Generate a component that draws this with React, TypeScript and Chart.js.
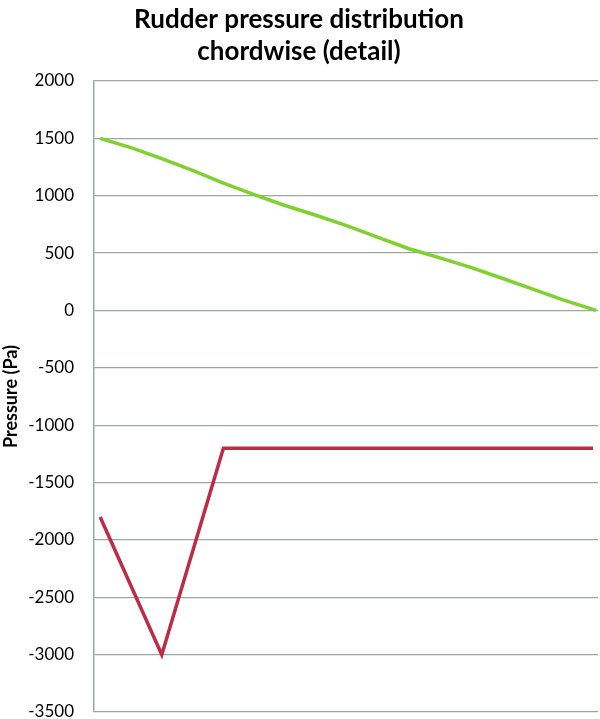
import React, { useEffect, useRef } from "react";
import { Chart, registerables } from "chart.js";

Chart.register(...registerables);

const titleLines = ["Rudder pressure distribution", "chordwise (detail)"];
const yAxisTitle = "Pressure (Pa)";
const yTicks = [2000, 1500, 1000, 500, 0, -500, -1000, -1500, -2000, -2500, -3000, -3500];

const greenX = [0, 0.5, 1, 1.5, 2, 2.5, 3, 3.5, 4, 4.5, 5, 5.5, 6, 6.5, 7, 7.5, 8.05];
const greenY = [1500, 1420, 1324, 1220, 1110, 1010, 915, 830, 740, 640, 540, 460, 377, 285, 190, 95, 0];

const redX = [0, 1, 2, 8];
const redY = [-1800, -3000, -1200, -1200];

export default function App() {
  const ref = useRef<HTMLCanvasElement | null>(null);
  useEffect(() => {
    document.body.style.margin = "0";
    const ctx = ref.current!;
    const chart = new Chart(ctx, {
      type: "line",
      data: {
        datasets: [
          {
            label: "upper",
            data: greenX.map((x, i) => ({ x, y: greenY[i] })),
            borderColor: "#7fd12e",
            borderWidth: 3.5,
            pointRadius: 0,
            tension: 0,
          },
          {
            label: "lower",
            data: redX.map((x, i) => ({ x, y: redY[i] })),
            borderColor: "#bf2a45",
            borderWidth: 3.5,
            pointRadius: 0,
            tension: 0,
          },
        ],
      },
      options: {
        animation: false,
        responsive: false,
        layout: { padding: { top: 0, right: 2, bottom: 7, left: 0 } },
        plugins: {
          legend: { display: false },
          tooltip: { enabled: false },
          title: {
            display: true,
            text: titleLines,
            color: "#000",
            font: { family: "Lato, 'Open Sans', sans-serif", size: 26, weight: "bold", lineHeight: 1.25 },
            padding: { top: 3, bottom: 13 },
          },
        },
        scales: {
          x: {
            type: "linear",
            min: -0.1,
            max: 8.08,
            display: false,
          },
          y: {
            min: -3500,
            max: 2000,
            afterBuildTicks: (scale: any) => {
              scale.ticks = yTicks.map((v) => ({ value: v }));
            },
            afterFit: (scale: any) => {
              scale.width = 94;
              scale.paddingTop = 0;
              scale.paddingBottom = 0;
            },
            ticks: {
              color: "#000",
              font: { family: "Lato, 'Open Sans', sans-serif", size: 17 },
              padding: 20,
              callback: (v: any) => String(v),
            },
            grid: { color: "#9ea6a6", lineWidth: 1.3, drawTicks: false },
            border: { display: true, color: "#9ea6a6", width: 1.5 },
            title: {
              display: true,
              text: yAxisTitle,
              color: "#000",
              font: { family: "Lato, 'Open Sans', sans-serif", size: 18, weight: "bold" },
              padding: { top: 0, bottom: 2 },
            },
          },
        },
      },
    } as any);
    return () => chart.destroy();
  }, []);
  return <canvas ref={ref} width={600} height={719} style={{ display: "block" }} />;
}
